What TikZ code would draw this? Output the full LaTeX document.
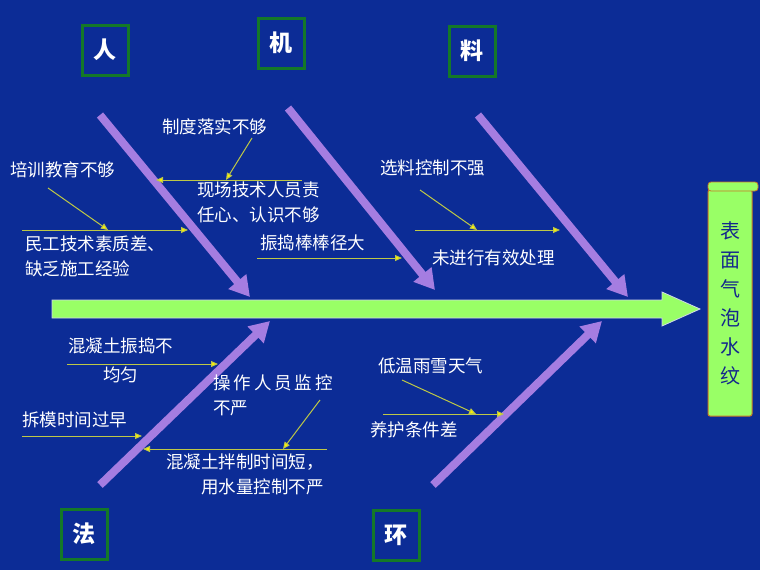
\documentclass[tikz,border=0pt]{standalone}
\usepackage{fontspec}
\setmainfont{Noto Sans CJK SC}
\usetikzlibrary{positioning, arrows.meta}
\definecolor{bgblue}{RGB}{12,44,150}
\definecolor{spinegreen}{RGB}{153,255,102}
\definecolor{bonepurple}{RGB}{165,125,225}
\definecolor{leadyellow}{RGB}{190,200,70}
\definecolor{boxgreen}{RGB}{20,120,40}
\definecolor{scrollorange}{RGB}{200,120,40}
\definecolor{effecttext}{RGB}{20,40,140}

\begin{document}
\begin{tikzpicture}[x=1pt, y=-1pt,
    bone/.style={bonepurple, line width=8pt, -{Triangle[length=20pt, width=22pt]}},
    lead/.style={leadyellow, line width=1pt, -{Triangle[length=7pt, width=6pt, fill=yellow]}},
    cause/.style={white, font=\fontsize{17.5}{25}\selectfont, inner sep=0pt, anchor=west, align=left},
    catbox/.style={draw=boxgreen, line width=3pt, fill=bgblue, minimum width=46pt, minimum height=50pt, text=white, font=\fontsize{23}{26}\selectfont\bfseries}]

    % === FOND ===
    \fill[bgblue] (0,0) rectangle (760,570);
    \useasboundingbox (0,0) rectangle (760,570);

    % === ARETE PRINCIPALE ===
    \fill[spinegreen, draw=white!80!bgblue, line width=0.8pt] (52,300) -- (662,300) -- (662,292) -- (700,309) -- (662,326) -- (662,318) -- (52,318) -- cycle;
    \coordinate (hd1) at (250,297);
    \coordinate (hd2) at (435,290);
    \coordinate (hd3) at (628,297);
    \coordinate (hd4) at (270,321);
    \coordinate (hd5) at (602,321);

    % === CATEGORIES ===
    \node[catbox] (ren) at (105,50) {人};
    \node[catbox] (ji) at (281,43) {机};
    \node[catbox] (liao) at (472,51) {料};
    \node[catbox] (fa) at (84,534) {法};
    \node[catbox] (huan) at (396,535) {环};

    % Grandes flèches
    \draw[bone] (100,115) -- (hd1);
    \draw[bone] (288,108) -- (hd2);
    \draw[bone] (478,115) -- (hd3);
    \draw[bone] (100,485) -- (hd4);
    \draw[bone] (433,485) -- (hd5);

    % === EFFET ===
    \node[draw=scrollorange, fill=spinegreen, line width=1pt, minimum width=44pt, minimum height=226pt, rounded corners=2pt] (effect) at (730,303) {};
    \draw[scrollorange, fill=spinegreen, line width=0.8pt, rounded corners=3pt] (708,182) rectangle (758,191);
    \node[effecttext, font=\fontsize{20}{29}\selectfont, align=center] (efftext) at (effect) {表\\面\\气\\泡\\水\\纹};

    % === CAUSES : HOMME ===
    \node[cause] (peixun) at (10,170) {培训教育不够};
    \node[cause, anchor=north west] (mingong) at (25,236) {民工技术素质差、\\缺乏施工经验};
    \coordinate (mg1) at (22,230);
    \coordinate (mg2) at (188,230);
    \draw[lead] (mg1) -- (mg2);
    \coordinate (mgm) at (108,230);
    \draw[lead] (48,188) -- (mgm);
    \node[cause] (zhidu) at (162,127) {制度落实不够};
    \node[cause, anchor=north west] (xianchang) at (197,182) {现场技术人员责\\任心、认识不够};
    \coordinate (xc1) at (302,180);
    \coordinate (xc2) at (156,180);
    \draw[lead] (xc1) -- (xc2);
    \coordinate (xcm) at (226,180);
    \draw[lead] (252,138) -- (xcm);

    % === MACHINE / MATERIAU ===
    \node[cause] (zhendao) at (260,243) {振捣棒棒径大};
    \draw[lead] (257,258) -- (402,258);
    \node[cause] (xuanliao) at (380,168) {选料控制不强};
    \node[cause] (weijin) at (432,258) {未进行有效处理};
    \coordinate (xl1) at (415,230);
    \coordinate (xl2) at (560,230);
    \draw[lead] (xl1) -- (xl2);
    \coordinate (xlm) at (477,230);
    \draw[lead] (420,190) -- (xlm);

    % === METHODE ===
    \node[cause, anchor=north west, align=center, font=\fontsize{17.5}{29}\selectfont] (hunning1) at (68,337) {混凝土振捣不\\均匀};
    \draw[lead] (67,364) -- (218,364);
    \node[cause] (chaimo) at (22,420) {拆模时间过早};
    \draw[lead] (22,436) -- (142,436);
    \node[cause, anchor=north west] (caozuo) at (213,375) {操\,作\,人\,员\,监\,控\\不严};
    \coordinate (cz1) at (327,449);
    \coordinate (cz2) at (143,449);
    \draw[lead] (cz1) -- (cz2);
    \coordinate (czm) at (283,449);
    \draw[lead] (320,400) -- (czm);
    \node[cause, anchor=north west, align=right] (hunning2) at (166,454) {混凝土拌制时间短，\\用水量控制不严};

    % === ENVIRONNEMENT ===
    \node[cause] (diwen) at (378,366) {低温雨雪天气};
    \node[cause] (yanghu) at (370,430) {养护条件差};
    \coordinate (yh1) at (383,414);
    \coordinate (yh2) at (504,414);
    \draw[lead] (yh1) -- (yh2);
    \coordinate (yhm) at (476,414);
    \draw[lead] (402,380) -- (yhm);

\end{tikzpicture}
\end{document}
